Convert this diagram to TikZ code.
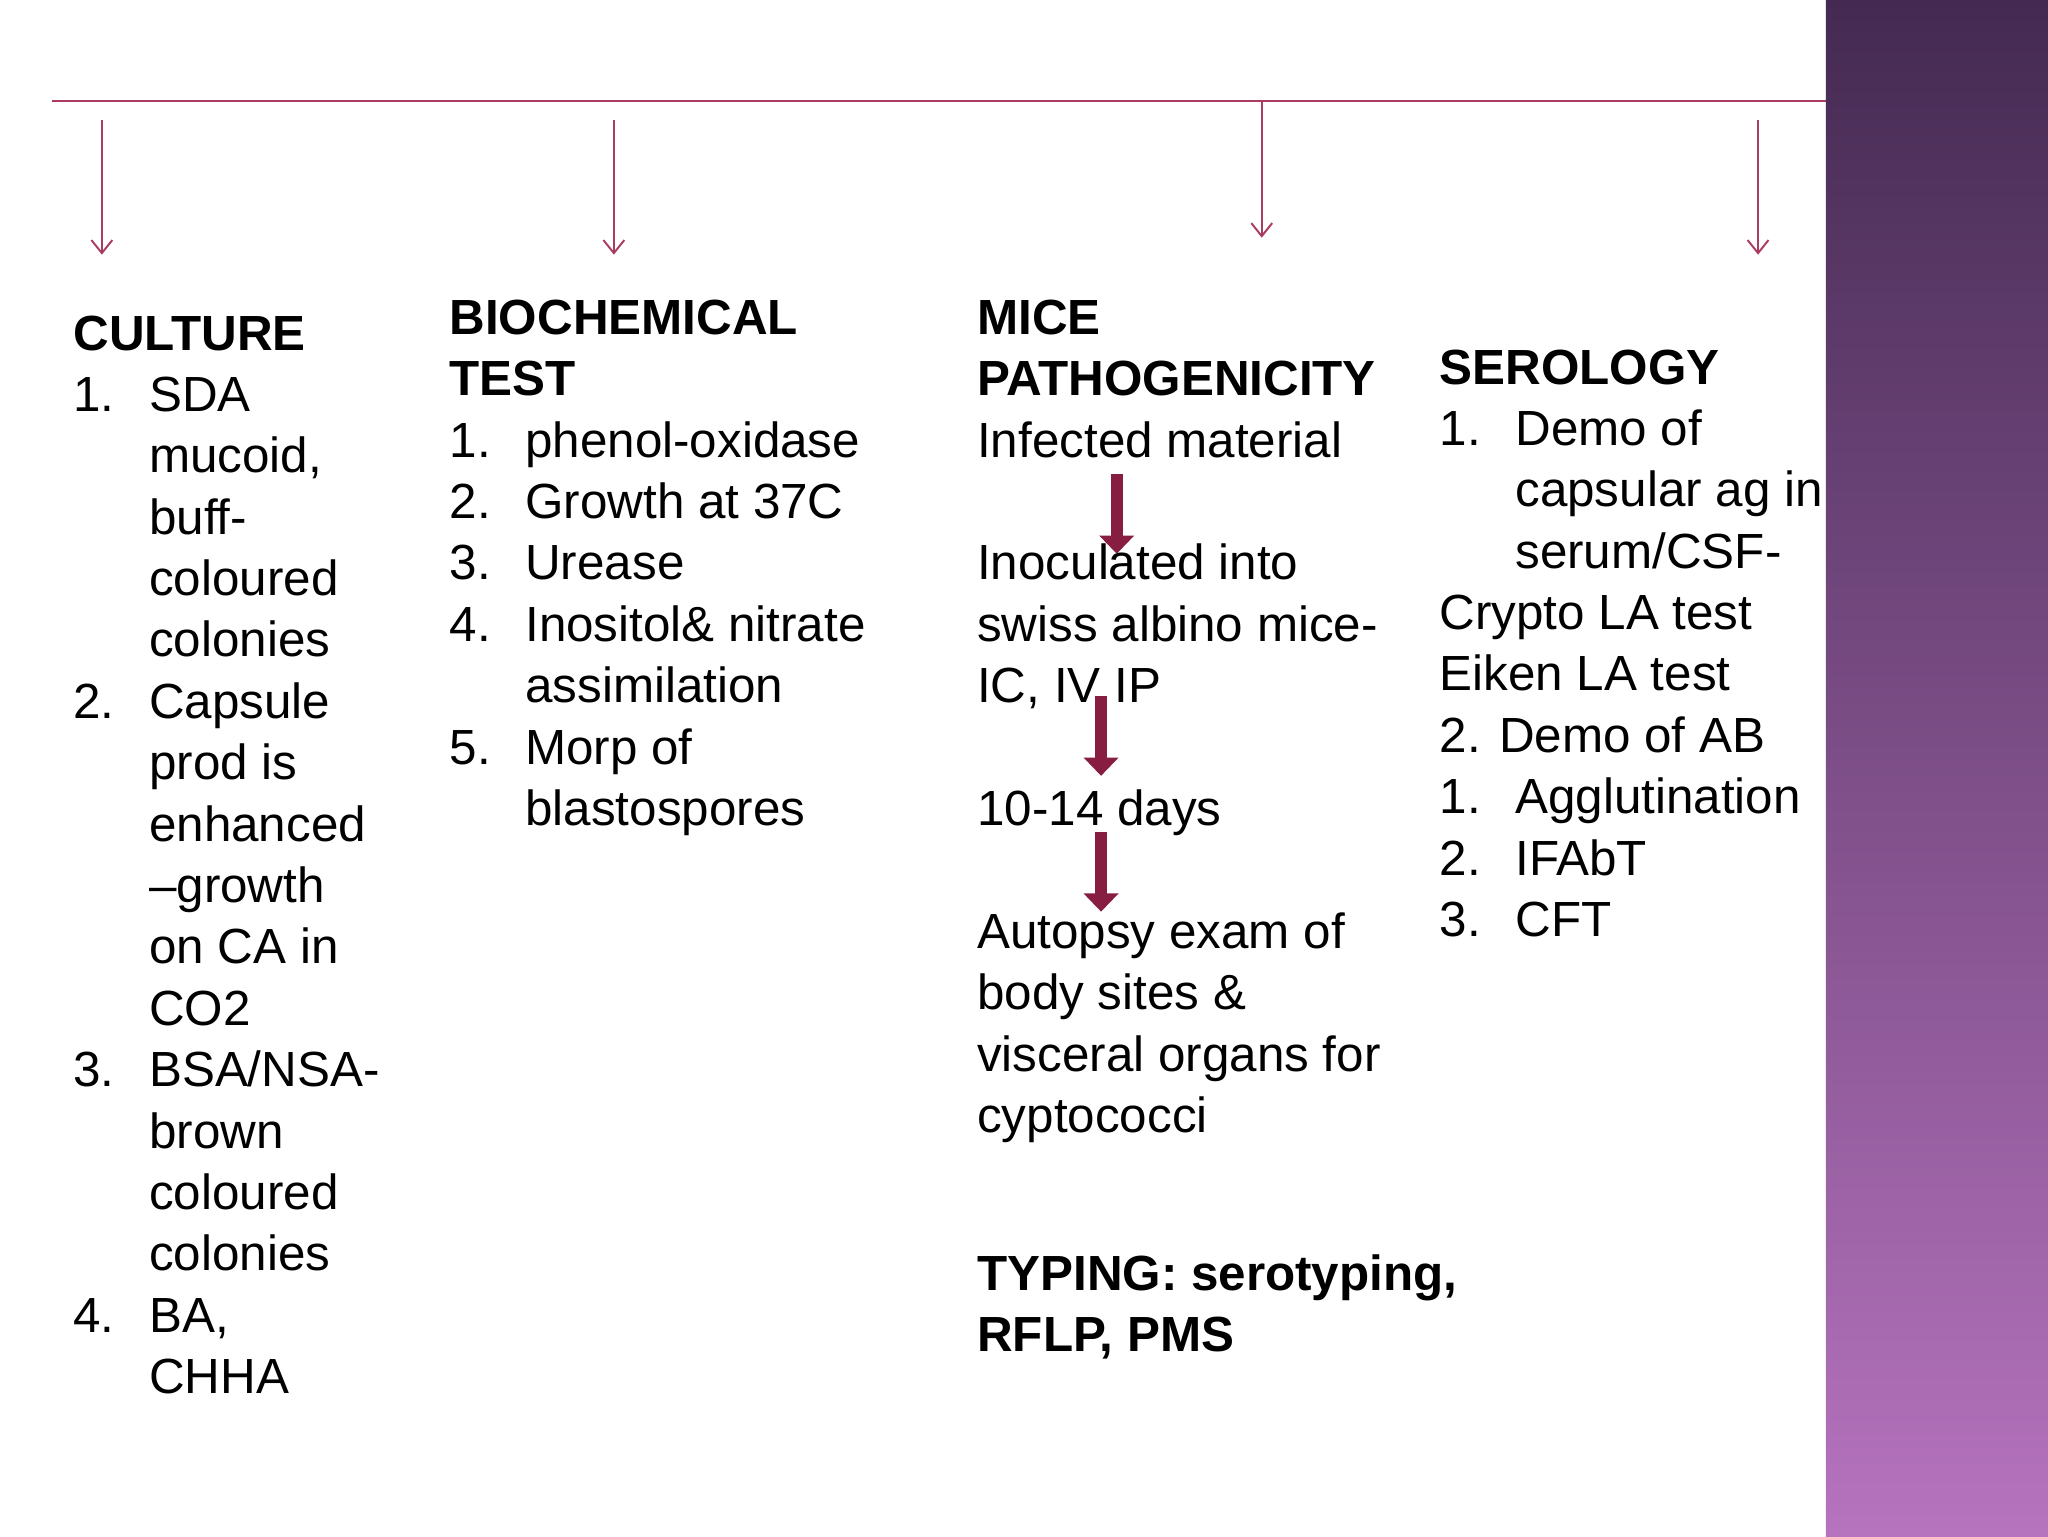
\documentclass[tikz,border=0pt]{standalone}
\usepackage{fontspec}
\setmainfont{Liberation Sans}
\usetikzlibrary{arrows.meta}
\definecolor{lineR}{RGB}{170,60,100}
\definecolor{thickR}{RGB}{135,30,65}
\begin{document}
\begin{tikzpicture}[x=1pt,y=-1pt,
  tx/.style={anchor=base west,inner sep=0pt,font=\fontsize{37.8}{44}\selectfont},
  hd/.style={tx,font=\fontsize{37.8}{44}\selectfont\bfseries},
  thin/.style={draw=lineR,line width=1.5pt,-{Straight Barb[length=10pt,width=16pt]}},
  thick/.style={draw=thickR,line width=9pt,-{Triangle[length=14pt,width=26pt]}}]
\useasboundingbox (0,0) rectangle (1568,1176);
\fill[white] (0,0) rectangle (1568,1176);
\coordinate (L0) at (40,77); \coordinate (L1) at (1398,77);
\draw[lineR,line width=1.5pt] (L0) -- (L1);
\coordinate (a1) at (78,92); \coordinate (b1) at (78,195);
\coordinate (a2) at (470,92); \coordinate (b2) at (470,195);
\coordinate (a3) at (966,78); \coordinate (b3) at (966,182);
\coordinate (a4) at (1346,92); \coordinate (b4) at (1346,195);
\foreach \i in {1,...,4} \draw[thin] (a\i) -- (b\i);
% culture
\node[hd] (cult) at (56,268) {CULTURE};
\foreach \n/\y in {1./315,2./550,3./832,4./1020} \node[tx] at (56,\y) {\n};
\foreach \t/\y in {{SDA}/315,{mucoid,}/362,{buff-}/409,{coloured}/456,{colonies}/503,{Capsule}/550,{prod is}/597,{enhanced}/644,{–growth}/691,{on CA in}/738,{CO2}/785,{BSA/NSA-}/832,{brown}/879,{coloured}/926,{colonies}/973,{BA,}/1020,{CHHA}/1067} \node[tx] at (114,\y) {\t};
% biochemical
\node[hd] (bio) at (344,256) {BIOCHEMICAL};
\node[hd] at (344,303) {TEST};
\foreach \n/\y in {1./350,2./397,3./444,4./491,5./585} \node[tx] at (344,\y) {\n};
\foreach \t/\y in {{phenol-oxidase}/350,{Growth at 37C}/397,{Urease}/444,{Inositol\& nitrate}/491,{assimilation}/538,{Morp of}/585,{blastospores}/632} \node[tx] at (402,\y) {\t};
% mice
\node[hd] (mice) at (748,256) {MICE};
\node[hd] at (748,303) {PATHOGENICITY};
\node[tx] (m1) at (748,350) {Infected material};
\node[tx] (m2) at (748,444) {Inoculated into};
\node[tx] at (748,491) {swiss albino mice-};
\node[tx] at (748,538) {IC, IV IP};
\node[tx] (m3) at (748,632) {10-14 days};
\node[tx] (m4) at (748,726) {Autopsy exam of};
\node[tx] at (748,773) {body sites \&};
\node[tx] at (748,820) {visceral organs for};
\node[tx] at (748,867) {cyptococci};
\node[hd] (typ) at (748,988) {TYPING: serotyping,};
\node[hd] at (748,1035) {RFLP, PMS};
\coordinate (t1a) at (855,363); \coordinate (t1b) at (855,424);
\coordinate (t2a) at (843,533); \coordinate (t2b) at (843,594);
\coordinate (t3a) at (843,637); \coordinate (t3b) at (843,698);
\foreach \i in {1,2,3} \draw[thick] (t\i a) -- (t\i b);
% serology
\node[hd] (ser) at (1102,294) {SEROLOGY};
\foreach \n/\y in {1./341,1./623,2./670,3./717} \node[tx] at (1102,\y) {\n};
\foreach \t/\y in {{Demo of}/341,{capsular ag in}/388,{serum/CSF-}/435,{Agglutination}/623,{IFAbT}/670,{CFT}/717} \node[tx] at (1160,\y) {\t};
\foreach \t/\y in {{Crypto LA test}/482,{Eiken LA test}/529,{2. Demo of AB}/576} \node[tx] at (1102,\y) {\t};
\shade[top color={rgb,255:red,68;green,42;blue,82},bottom color={rgb,255:red,182;green,115;blue,190}] (1398,0) rectangle (1568,1176);
\end{tikzpicture}
\end{document}
